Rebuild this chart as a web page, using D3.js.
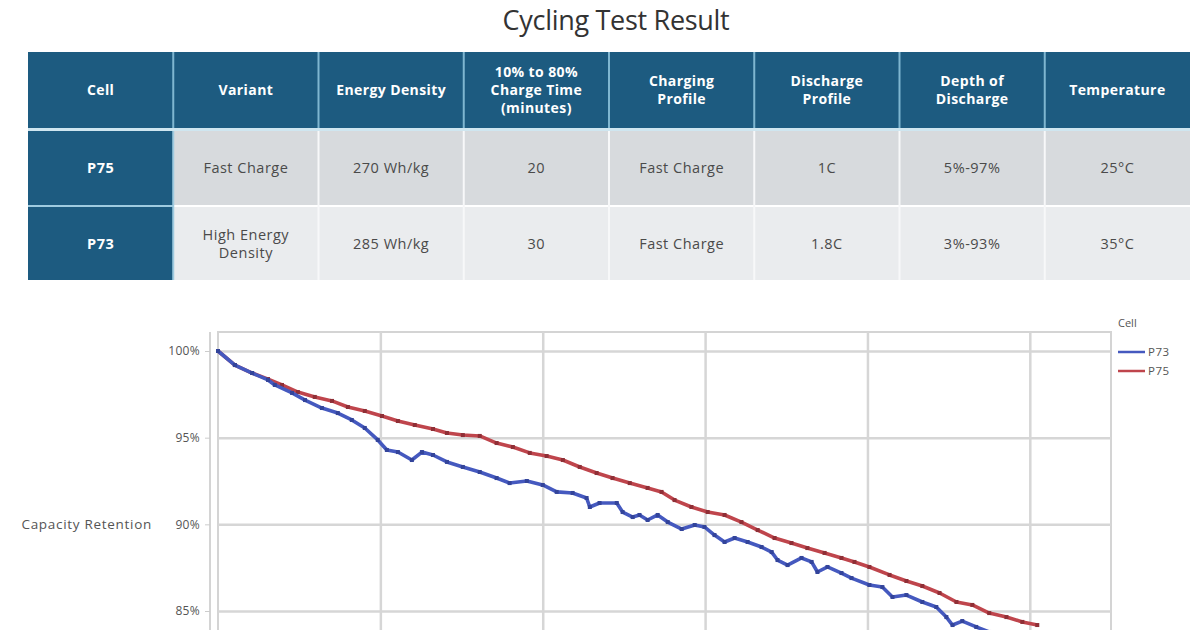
<!DOCTYPE html>
<html>
<head>
<meta charset="utf-8">
<script src="https://cdn.jsdelivr.net/npm/d3@7"></script>
<style>
  html, body { margin: 0; padding: 0; background: #ffffff; }
  svg { display: block; }
</style>
</head>
<body>
<svg id="chart" width="1200" height="630"></svg>
<script>
// ---------- DATA ----------
const title = "Cycling Test Result";
const tableHeaders = ["Cell", "Variant", "Energy Density", "10% to 80%\nCharge Time\n(minutes)", "Charging\nProfile", "Discharge\nProfile", "Depth of\nDischarge", "Temperature"];
const rowP75 = ["P75", "Fast Charge", "270 Wh/kg", "20", "Fast Charge", "1C", "5%-97%", "25°C"];
const rowP73 = ["P73", "High Energy\nDensity", "285 Wh/kg", "30", "Fast Charge", "1.8C", "3%-93%", "35°C"];

const seriesNames = ["P73", "P75"];
const p73Cycles = [0, 52, 105, 154, 175, 228, 268, 320, 369, 412, 452, 492, 520, 554, 597, 628, 662, 705, 754, 806, 858, 898, 951, 1000, 1043, 1092, 1135, 1145, 1175, 1228, 1246, 1277, 1298, 1323, 1354, 1385, 1428, 1468, 1498, 1529, 1560, 1591, 1631, 1674, 1705, 1723, 1754, 1797, 1828, 1846, 1877, 1920, 1951, 2006, 2046, 2077, 2120, 2169, 2212, 2243, 2262, 2292, 2335, 2375, 2422];
const p73Retention = [100, 99.19, 98.73, 98.33, 98.04, 97.58, 97.17, 96.71, 96.42, 96.02, 95.56, 94.87, 94.29, 94.17, 93.71, 94.17, 94.0, 93.6, 93.31, 93.02, 92.67, 92.38, 92.5, 92.27, 91.87, 91.81, 91.52, 91.0, 91.23, 91.23, 90.71, 90.42, 90.54, 90.25, 90.54, 90.13, 89.73, 89.96, 89.85, 89.38, 88.98, 89.21, 88.98, 88.69, 88.4, 87.94, 87.65, 88.06, 87.83, 87.25, 87.54, 87.19, 86.9, 86.5, 86.38, 85.81, 85.92, 85.52, 85.23, 84.65, 84.19, 84.42, 84.08, 83.79, 83.56];
const p75Cycles = [0, 52, 105, 154, 197, 246, 298, 351, 400, 452, 505, 554, 606, 662, 705, 754, 806, 858, 908, 960, 1012, 1062, 1114, 1166, 1215, 1268, 1323, 1366, 1406, 1458, 1508, 1560, 1612, 1662, 1714, 1766, 1815, 1868, 1920, 1960, 2006, 2068, 2120, 2169, 2222, 2274, 2323, 2375, 2428, 2477, 2523];
const p75Retention = [100, 99.19, 98.73, 98.38, 98.04, 97.63, 97.35, 97.12, 96.77, 96.54, 96.25, 95.96, 95.73, 95.5, 95.27, 95.15, 95.1, 94.69, 94.46, 94.12, 93.94, 93.71, 93.31, 92.96, 92.67, 92.38, 92.1, 91.87, 91.4, 91.0, 90.71, 90.54, 90.13, 89.67, 89.21, 88.92, 88.63, 88.35, 88.06, 87.83, 87.54, 87.08, 86.73, 86.44, 86.04, 85.52, 85.35, 84.88, 84.65, 84.37, 84.19];
const yTicks = [85, 90, 95, 100];
const xTicks = [0, 500, 1000, 1500, 2000, 2500];
const yAxisTitle = "Capacity Retention";
const legendTitle = "Cell";

// ---------- LAYOUT ----------
const svg = d3.select("#chart");
const FONT = "'Open Sans', 'Segoe UI', sans-serif";

svg.append("text")
  .attr("x", 616).attr("y", 30)
  .attr("text-anchor", "middle")
  .attr("font-family", FONT)
  .attr("font-size", 27)
  .attr("fill", "#333")
  .attr("letter-spacing", -0.3)
  .text(title);

// ---------- TABLE ----------
const tX0 = 28, tX1 = 1190;
const nCols = tableHeaders.length;
const colX = d3.scaleBand().domain(d3.range(nCols)).range([tX0, tX1]);
const rowsSpec = [
  { y0: 52, y1: 128, cells: tableHeaders, header: true },
  { y0: 131, y1: 205, cells: rowP75, bg: "#d7dadd" },
  { y0: 207, y1: 280, cells: rowP73, bg: "#eaecee" }
];
const darkBlue = "#1d5b80";
const tbl = svg.append("g");

tbl.append("rect").attr("x", tX0).attr("y", 128).attr("width", tX1 - tX0).attr("height", 3).attr("fill", "#cfe6f0");
tbl.append("rect").attr("x", tX0).attr("y", 205).attr("width", colX.bandwidth()).attr("height", 2).attr("fill", "#9fcbe0");

rowsSpec.forEach(r => {
  r.cells.forEach((txt, i) => {
    const x = colX(i), w = colX.bandwidth();
    const isDark = r.header || i === 0;
    tbl.append("rect")
      .attr("x", x).attr("y", r.y0)
      .attr("width", w).attr("height", r.y1 - r.y0)
      .attr("fill", isDark ? darkBlue : r.bg);
    const lines = txt.split("\n");
    const lh = r.header ? 18 : 18;
    const cy = (r.y0 + r.y1) / 2;
    const t = tbl.append("text")
      .attr("text-anchor", "middle")
      .attr("font-family", FONT)
      .attr("font-size", r.header ? 14 : 14.5)
      .attr("font-weight", isDark ? 700 : 400)
      .attr("letter-spacing", r.header ? 0.4 : 0.5)
      .attr("fill", isDark ? "#ffffff" : "#4a4a4a");
    lines.forEach((ln, k) => {
      t.append("tspan")
        .attr("x", x + w / 2)
        .attr("y", cy + (k - (lines.length - 1) / 2) * lh + 5)
        .text(ln);
    });
  });
});
d3.range(1, nCols).forEach(i => {
  const x = colX(i);
  tbl.append("rect").attr("x", x - 1).attr("y", 52).attr("width", 2).attr("height", 76).attr("fill", "#7fb6d0");
  tbl.append("rect").attr("x", x - 1).attr("y", 131).attr("width", 2).attr("height", 149).attr("fill", i === 1 ? "#9fcbe0" : "#f7f8f9");
});

// ---------- LINE CHART ----------
const plotL = 218, plotR = 1111, plotT = 332, plotB = 700;
const x = d3.scaleLinear().domain([0, 2750]).range([plotL, plotR]);
const y = d3.scaleLinear().domain([85, 100]).range([611, 351]);
const chart = svg.append("g");

chart.append("rect")
  .attr("x", plotL).attr("y", plotT)
  .attr("width", plotR - plotL).attr("height", plotB - plotT)
  .attr("fill", "none").attr("stroke", "#d4d4d4").attr("stroke-width", 2);

chart.append("g")
  .attr("transform", `translate(${plotL},0)`)
  .call(d3.axisLeft(y).tickValues(yTicks).tickSize(-(plotR - plotL)).tickFormat(""))
  .call(g => g.select(".domain").remove())
  .call(g => g.selectAll("line").attr("stroke", "#d6d6d6").attr("stroke-width", 2.5));

chart.append("g")
  .attr("transform", `translate(0,${plotB})`)
  .call(d3.axisBottom(x).tickValues(xTicks.slice(1)).tickSize(-(plotB - plotT)).tickFormat(""))
  .call(g => g.select(".domain").remove())
  .call(g => g.selectAll("line").attr("stroke", "#d6d6d6").attr("stroke-width", 2.5));

chart.append("g")
  .attr("transform", `translate(210,0)`)
  .call(d3.axisLeft(y).tickValues(yTicks).tickSize(5).tickPadding(5).tickFormat(d => d + "%"))
  .call(g => g.select(".domain").attr("stroke", "#d4d4d4").attr("stroke-width", 2).attr("d", `M0,${plotT}V${plotB}`))
  .call(g => g.selectAll(".tick line").attr("stroke", "#cccccc"))
  .call(g => g.selectAll("text").attr("font-family", FONT).attr("font-size", 12).attr("fill", "#555").attr("letter-spacing", 0.3));

chart.append("text")
  .attr("x", 152).attr("y", y(90) + 4.5)
  .attr("text-anchor", "end")
  .attr("font-family", FONT).attr("font-size", 13.5).attr("fill", "#555")
  .attr("letter-spacing", 0.7)
  .text(yAxisTitle);

const series = [
  { name: "P73", xs: p73Cycles, ys: p73Retention, color: "#4559bf", dot: "#33449a" },
  { name: "P75", xs: p75Cycles, ys: p75Retention, color: "#bf454c", dot: "#8f2f36" }
];
const line = d3.line().x(d => x(d[0])).y(d => y(d[1]));

[series[1], series[0]].forEach(s => {
  const pts = s.xs.map((c, i) => [c, s.ys[i]]);
  chart.append("path")
    .datum(pts)
    .attr("d", line)
    .attr("fill", "none")
    .attr("stroke", s.color)
    .attr("stroke-width", 3.6)
    .attr("stroke-linejoin", "round");
  chart.append("g").selectAll("rect")
    .data(pts).join("rect")
    .attr("x", d => x(d[0]) - 2).attr("y", d => y(d[1]) - 2)
    .attr("width", 4).attr("height", 4)
    .attr("fill", s.dot);
});

const lg = svg.append("g");
lg.append("text").attr("x", 1118).attr("y", 327)
  .attr("font-family", FONT).attr("font-size", 11).attr("fill", "#555").text(legendTitle);
seriesNames.forEach((n, i) => {
  const s = series.find(d => d.name === n);
  const yy = 352 + i * 19;
  lg.append("line").attr("x1", 1118).attr("x2", 1145).attr("y1", yy).attr("y2", yy)
    .attr("stroke", s.color).attr("stroke-width", 2.5);
  lg.append("text").attr("x", 1148).attr("y", yy + 4)
    .attr("font-family", FONT).attr("font-size", 11.5).attr("fill", "#555").attr("letter-spacing", 0.5).text(n);
});
</script>
</body>
</html>
